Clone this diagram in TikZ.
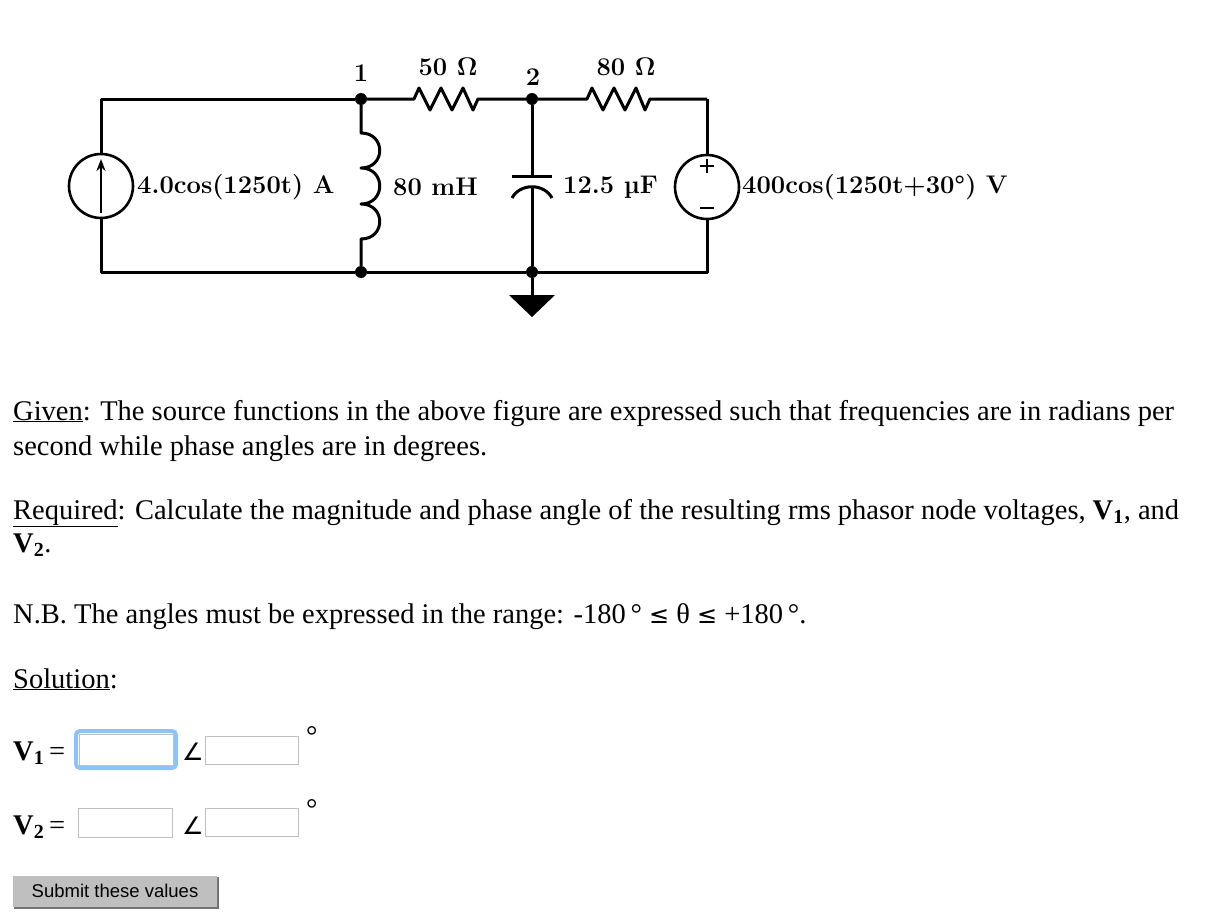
\documentclass[tikz,border=0pt]{standalone}
\usepackage{fontspec}
\setmainfont{Liberation Serif}
\newfontfamily\cktfont{Latin Modern Roman}
\newfontfamily\uisans{Liberation Sans}
\newfontfamily\symfont{DejaVu Sans}
\usetikzlibrary{arrows.meta}
\definecolor{glow}{RGB}{140,196,248}
\begin{document}
\begin{tikzpicture}[x=1pt,y=-1pt,
  wire/.style={line width=3pt,line join=round},
  dot/.style={circle,fill=black,inner sep=0pt,minimum size=12pt},
  ckt/.style={font=\cktfont\bfseries\fontsize{25.5}{27}\selectfont,inner sep=0pt},
  body/.style={font=\fontsize{28.5}{32}\selectfont,anchor=base west,inner sep=0pt},
  inbox/.style={draw=black!25,line width=1pt,fill=white},
]
\useasboundingbox (0,0) rectangle (1224,918);
% coordinates
\coordinate (tl) at (101,99); \coordinate (bl) at (101,272);
\coordinate (tr) at (707,99); \coordinate (br) at (707,272);
\node[dot] (n1) at (361,99) {}; \node[dot] (n2) at (532,99) {};
\node[dot] (b1) at (361,272) {}; \node[dot] (b2) at (532,272) {};
% current source
\node[circle,draw,line width=2.6pt,minimum size=64pt,inner sep=0pt] (is) at (101,186) {};
\draw[wire] (is.north) -- (tl) -- (n1);
\draw[wire] (is.south) -- (bl) -- (b1);
\draw[line width=2.6pt,-{Stealth[length=12pt,width=9pt]}] (101,213) -- (101,159);
% 50 ohm
\coordinate (r1a) at (414,99); \coordinate (r1b) at (478,99);
\draw[wire] (n1) -- (r1a) -- (419,88) -- (430,110) -- (441,88) -- (452,110) -- (463,88) -- (473,110) -- (r1b) -- (n2);
% 80 ohm
\coordinate (r2a) at (587,99); \coordinate (r2b) at (650,99);
\draw[wire] (n2) -- (r2a) -- (592,88) -- (603,110) -- (614,88) -- (625,110) -- (636,88) -- (645,110) -- (r2b) -- (tr);
% voltage source
\node[circle,draw,line width=2.6pt,minimum size=64pt,inner sep=0pt] (vs) at (707,187) {};
\draw[wire] (tr) -- (vs.north);
\draw[wire] (vs.south) -- (br) -- (b2) -- (b1);
\draw[line width=2pt] (700,166) -- (714,166) (707,159) -- (707,173);
\draw[line width=2pt] (700,208) -- (714,208);
% inductor
\draw[wire] (n1) -- (361,133) .. controls (386,133) and (386,168) .. (361,168)
  .. controls (386,168) and (386,204) .. (361,204)
  .. controls (386,204) and (386,239) .. (361,239) -- (b1);
% capacitor
\draw[wire] (n2) -- (532,176);
\draw[wire] (512,176) -- (552,176);
\draw[wire] (512,198) .. controls (520,183) and (544,183) .. (552,198);
\draw[wire] (532,187) -- (b2);
% ground
\coordinate (g) at (532,295);
\draw[wire] (b2) -- (g);
\fill (509,295) -- (555,295) -- (532,317) -- cycle;
% labels
\node[ckt] (l1) at (361,73) {1};
\node[ckt] (l2) at (533,77) {2};
\node[ckt] (l50) at (448,67) {50 Ω};
\node[ckt] (l80) at (626,67) {80 Ω};
\node[ckt,anchor=west] (lis) at (137,187) {4.0cos(1250t) A};
\node[ckt,anchor=west] (lL) at (393,187) {80 mH};
\node[ckt,anchor=west] (lC) at (563,187) {12.5 µF};
\node[ckt,anchor=west] (lV) at (742,187) {400cos(1250t+30°) V};
% body text
\node[body] (t1) at (13,420) {\underline{Given}: The source functions in the above figure are expressed such that frequencies are in radians per};
\node[body] (t2) at (13,455) {second while phase angles are in degrees.};
\node[body] (t3) at (13,519) {\underline{Required}: Calculate the magnitude and phase angle of the resulting rms phasor node voltages, $\mathbf{V_1}$, and};
\node[body] (t4) at (13,552) {$\mathbf{V_2}$.};
\node[body] (t5) at (13,623) {N.B. The angles must be expressed in the range: -180\,° {\symfont\fontsize{24}{26}\selectfont ≤} θ {\symfont\fontsize{24}{26}\selectfont ≤} +180\,°.};
\node[body] (t6) at (13,688) {\underline{Solution}:};
% inputs row 1
\node[body] (v1) at (13,760) {$\mathbf{V_1}$\,=};
\draw[draw=glow,line width=4pt,rounded corners=4pt] (76,731) rectangle (176,768);
\node[inbox,minimum width=94pt,minimum height=31pt] (b11) at (126,749.5) {};
\node[body,font=\symfont\fontsize{24}{26}\selectfont] (a1) at (182,760) {∠};
\node[inbox,minimum width=93pt,minimum height=28pt] (b12) at (251.5,750) {};
\node[body] (d1) at (306,745) {°};
% inputs row 2
\node[body] (v2) at (13,834) {$\mathbf{V_2}$\,=};
\node[inbox,minimum width=94pt,minimum height=29pt] (b21) at (125,822.5) {};
\node[body,font=\symfont\fontsize{24}{26}\selectfont] (a2) at (182,834) {∠};
\node[inbox,minimum width=93pt,minimum height=28pt] (b22) at (251.5,822) {};
\node[body] (d2) at (306,818) {°};
% button
\fill[black!55] (14,877) rectangle (219,909);
\node[fill=black!25,minimum width=204pt,minimum height=31pt,inner sep=0pt,font=\uisans\fontsize{18.5}{20}\selectfont] (sub) at (115,891) {Submit these values};
\end{tikzpicture}
\end{document}
